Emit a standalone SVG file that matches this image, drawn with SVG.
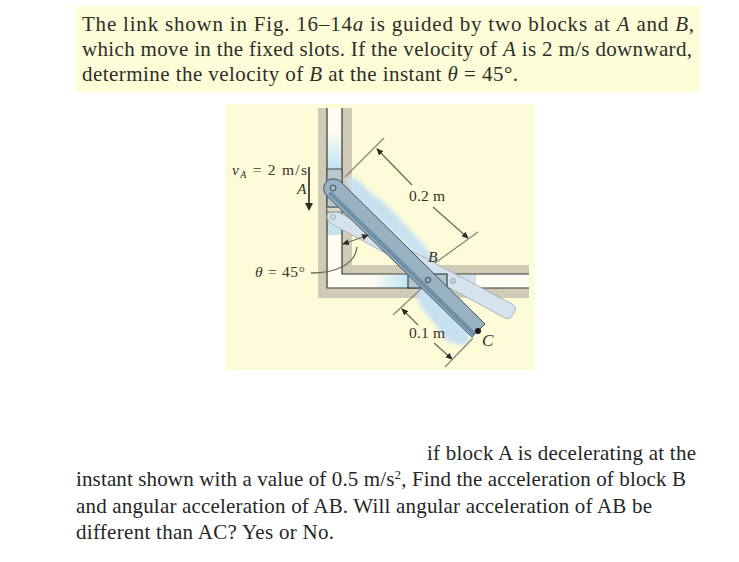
<svg xmlns="http://www.w3.org/2000/svg" width="739" height="562" viewBox="0 0 739 562">
<defs>
<filter id="blur" x="-30%" y="-30%" width="160%" height="160%"><feGaussianBlur stdDeviation="2"/></filter>
<filter id="soft" x="-5%" y="-5%" width="110%" height="110%"><feGaussianBlur stdDeviation="0.5"/></filter>
<linearGradient id="fadeV" x1="0" y1="0" x2="0" y2="1"><stop offset="0" stop-color="#fdfdf2"/><stop offset="1" stop-color="#bfe2f2"/></linearGradient>
<linearGradient id="fadeH" x1="0" y1="0" x2="1" y2="0"><stop offset="0" stop-color="#fdfdf2"/><stop offset="1" stop-color="#bfe6f5"/></linearGradient>
<marker id="tip" markerWidth="7" markerHeight="6" refX="6" refY="3" orient="auto-start-reverse" markerUnits="userSpaceOnUse"><path d="M0 0L7 3L0 6Z" fill="#2b2b26"/></marker>
</defs>
<style>
.t{font-family:"Liberation Serif","Times New Roman",serif;fill:#2e2e2a}
.p{font-size:21px}
.q{font-size:21px;fill:#262626}
.l{font-size:15.5px;fill:#33332e}
.i{font-style:italic}
.dim{stroke:#6f6c58;stroke-width:1.3;fill:none}
.slot{stroke:#3a3a36;stroke-width:1.2;fill:none}
</style>
<rect width="739" height="562" fill="#ffffff"/>
<rect x="75" y="6" width="625" height="86" fill="#fdfdd8"/>
<rect x="225" y="104" width="310" height="266" fill="#fefcd8"/>

<g id="slot" filter="url(#soft)">
<path d="M318 108H327V288H529V298H318Z" fill="#cfcbb6"/>
<path d="M342 108H352V265H529V274H342Z" fill="#cfcbb6"/>
<rect x="327" y="108" width="15" height="180" fill="#fdfdf2"/>
<rect x="342" y="274" width="187" height="14" fill="#fdfdf2"/>
<rect x="327" y="132" width="15" height="37" fill="url(#fadeV)"/>
<rect x="327" y="207" width="15" height="28" fill="#c9e1ee"/>
<rect x="372" y="275" width="36" height="13" fill="url(#fadeH)"/>
<rect x="447" y="275" width="28" height="13" fill="#cfe3ef"/>
<path d="M475 274V288" stroke="#d9d9c8" stroke-width="1.5"/>
<path class="slot" d="M327 108V288H529M342 108V274H529"/>
</g>

<g id="motion-blur" filter="url(#blur)" fill="#c8e1f1">
<path d="M345 177L358 179L370 192L386 204L416 236L438 262L425 264L352 195Z"/>
<path d="M415 288L426 286L472 330L466 346L447 342L436 326L420 306Z"/>
</g>

<g id="ghost-link" filter="url(#soft)">
<path d="M336 211L512 304Q517 307 515 311L511 317Q509 320 505 318L330 223Q325 217 329 212Q332 209 336 211Z" fill="#d6e3ed" stroke="#a7b4bc"/>
<rect x="327" y="207" width="15" height="5" fill="#d8d9c4" stroke="#77766a" stroke-width=".8"/>
<circle cx="453" cy="281" r="2.6" fill="#c3d2dc" stroke="#a0aeb6"/>
<circle cx="333" cy="217" r="2.6" fill="#cbd8e0" stroke="#aab7bf"/>
</g>

<g id="block-A" filter="url(#soft)">
<rect x="327" y="169" width="15" height="38" fill="#b9c8cc" stroke="#3f4a4c" stroke-width="1"/>
</g>
<g id="block-B" filter="url(#soft)">
<rect x="408" y="274" width="39" height="14" fill="#b2c5cf" stroke="#35403f" stroke-width="1.2"/>
</g>

<g id="link" filter="url(#soft)">
<path d="M326 182C329 178 336 178 340 181L485 324L472 337L326 195C323 191 323 186 326 182Z" fill="#98b2c4" stroke="#3e5160" stroke-width="1"/>
<path d="M328 194L473 336L476 333L331 191Z" fill="#6f8fa5"/>
<circle cx="333" cy="188" r="3" fill="#9fb5c2" stroke="#41525e"/>
<circle cx="428" cy="280" r="2.8" fill="#8da3b0" stroke="#3e4f5b"/>
<circle cx="478" cy="331" r="3" fill="#15191b"/>
</g>

<g id="connectors">
<path d="M309 167V206" stroke="#2a2a26" stroke-width="1.6" fill="none"/>
<path d="M305 203H313L309 211Z" fill="#2a2a26"/>
<g class="dim">
<path d="M345 177L384 138" stroke="#8a8670"/>
<path d="M412 185L377 149" marker-end="url(#tip)"/>
<path d="M433 207L468 238" marker-end="url(#tip)"/>
<path d="M435 263L478 232" stroke="#8a8670"/>
<path d="M422 288L393 315" stroke="#8a8670"/>
<path d="M418 325L402 309" marker-end="url(#tip)"/>
<path d="M434 343L452 359" marker-end="url(#tip)"/>
<path d="M473 338L445 367" stroke="#8a8670"/>
<path d="M343 244Q355 240 368 235" marker-start="url(#tip)" marker-end="url(#tip)"/>
<path d="M311 273C335 273 355 265 357 247"/>
</g>
</g>

<g id="labels">
<text class="t l i" x="232" y="175" textLength="75">v<tspan font-size="10" dy="3">A</tspan><tspan dy="-3" font-style="normal"> = 2 m/s</tspan></text>
<text class="t l i" x="297" y="194">A</text>
<text class="t l" x="409" y="201" textLength="36">0.2 m</text>
<text class="t l i" x="428" y="262">B</text>
<text class="t l" x="255" y="277" textLength="50"><tspan class="i">θ</tspan> = 45°</text>
<text class="t l" x="409" y="338" textLength="36">0.1 m</text>
<text class="t i" font-size="17" fill="#33332e" x="482" y="346">C</text>
</g>

<g id="problem-text">
<text class="t p" x="82" y="31" textLength="612" lengthAdjust="spacing">The link shown in Fig. 16–14<tspan class="i">a</tspan> is guided by two blocks at <tspan class="i">A</tspan> and <tspan class="i">B</tspan>,</text>
<text class="t p" x="82" y="56" textLength="610" lengthAdjust="spacing">which move in the fixed slots. If the velocity of <tspan class="i">A</tspan> is 2 m/s downward,</text>
<text class="t p" x="82" y="81" textLength="436" lengthAdjust="spacing">determine the velocity of <tspan class="i">B</tspan> at the instant <tspan class="i">θ</tspan> = 45°.</text>
</g>
<g id="question-text">
<text class="t q" x="427" y="460" textLength="269" lengthAdjust="spacing">if block A is decelerating at the</text>
<text class="t q" x="76" y="486" textLength="610" lengthAdjust="spacing">instant shown with a value of 0.5 m/s<tspan font-size="13" dy="-7">2</tspan><tspan dy="7">, Find the acceleration of block B</tspan></text>
<text class="t q" x="76" y="513" textLength="576" lengthAdjust="spacing">and angular acceleration of AB. Will angular acceleration of AB be</text>
<text class="t q" x="76" y="539" textLength="258" lengthAdjust="spacing">different than AC? Yes or No.</text>
</g>
</svg>
